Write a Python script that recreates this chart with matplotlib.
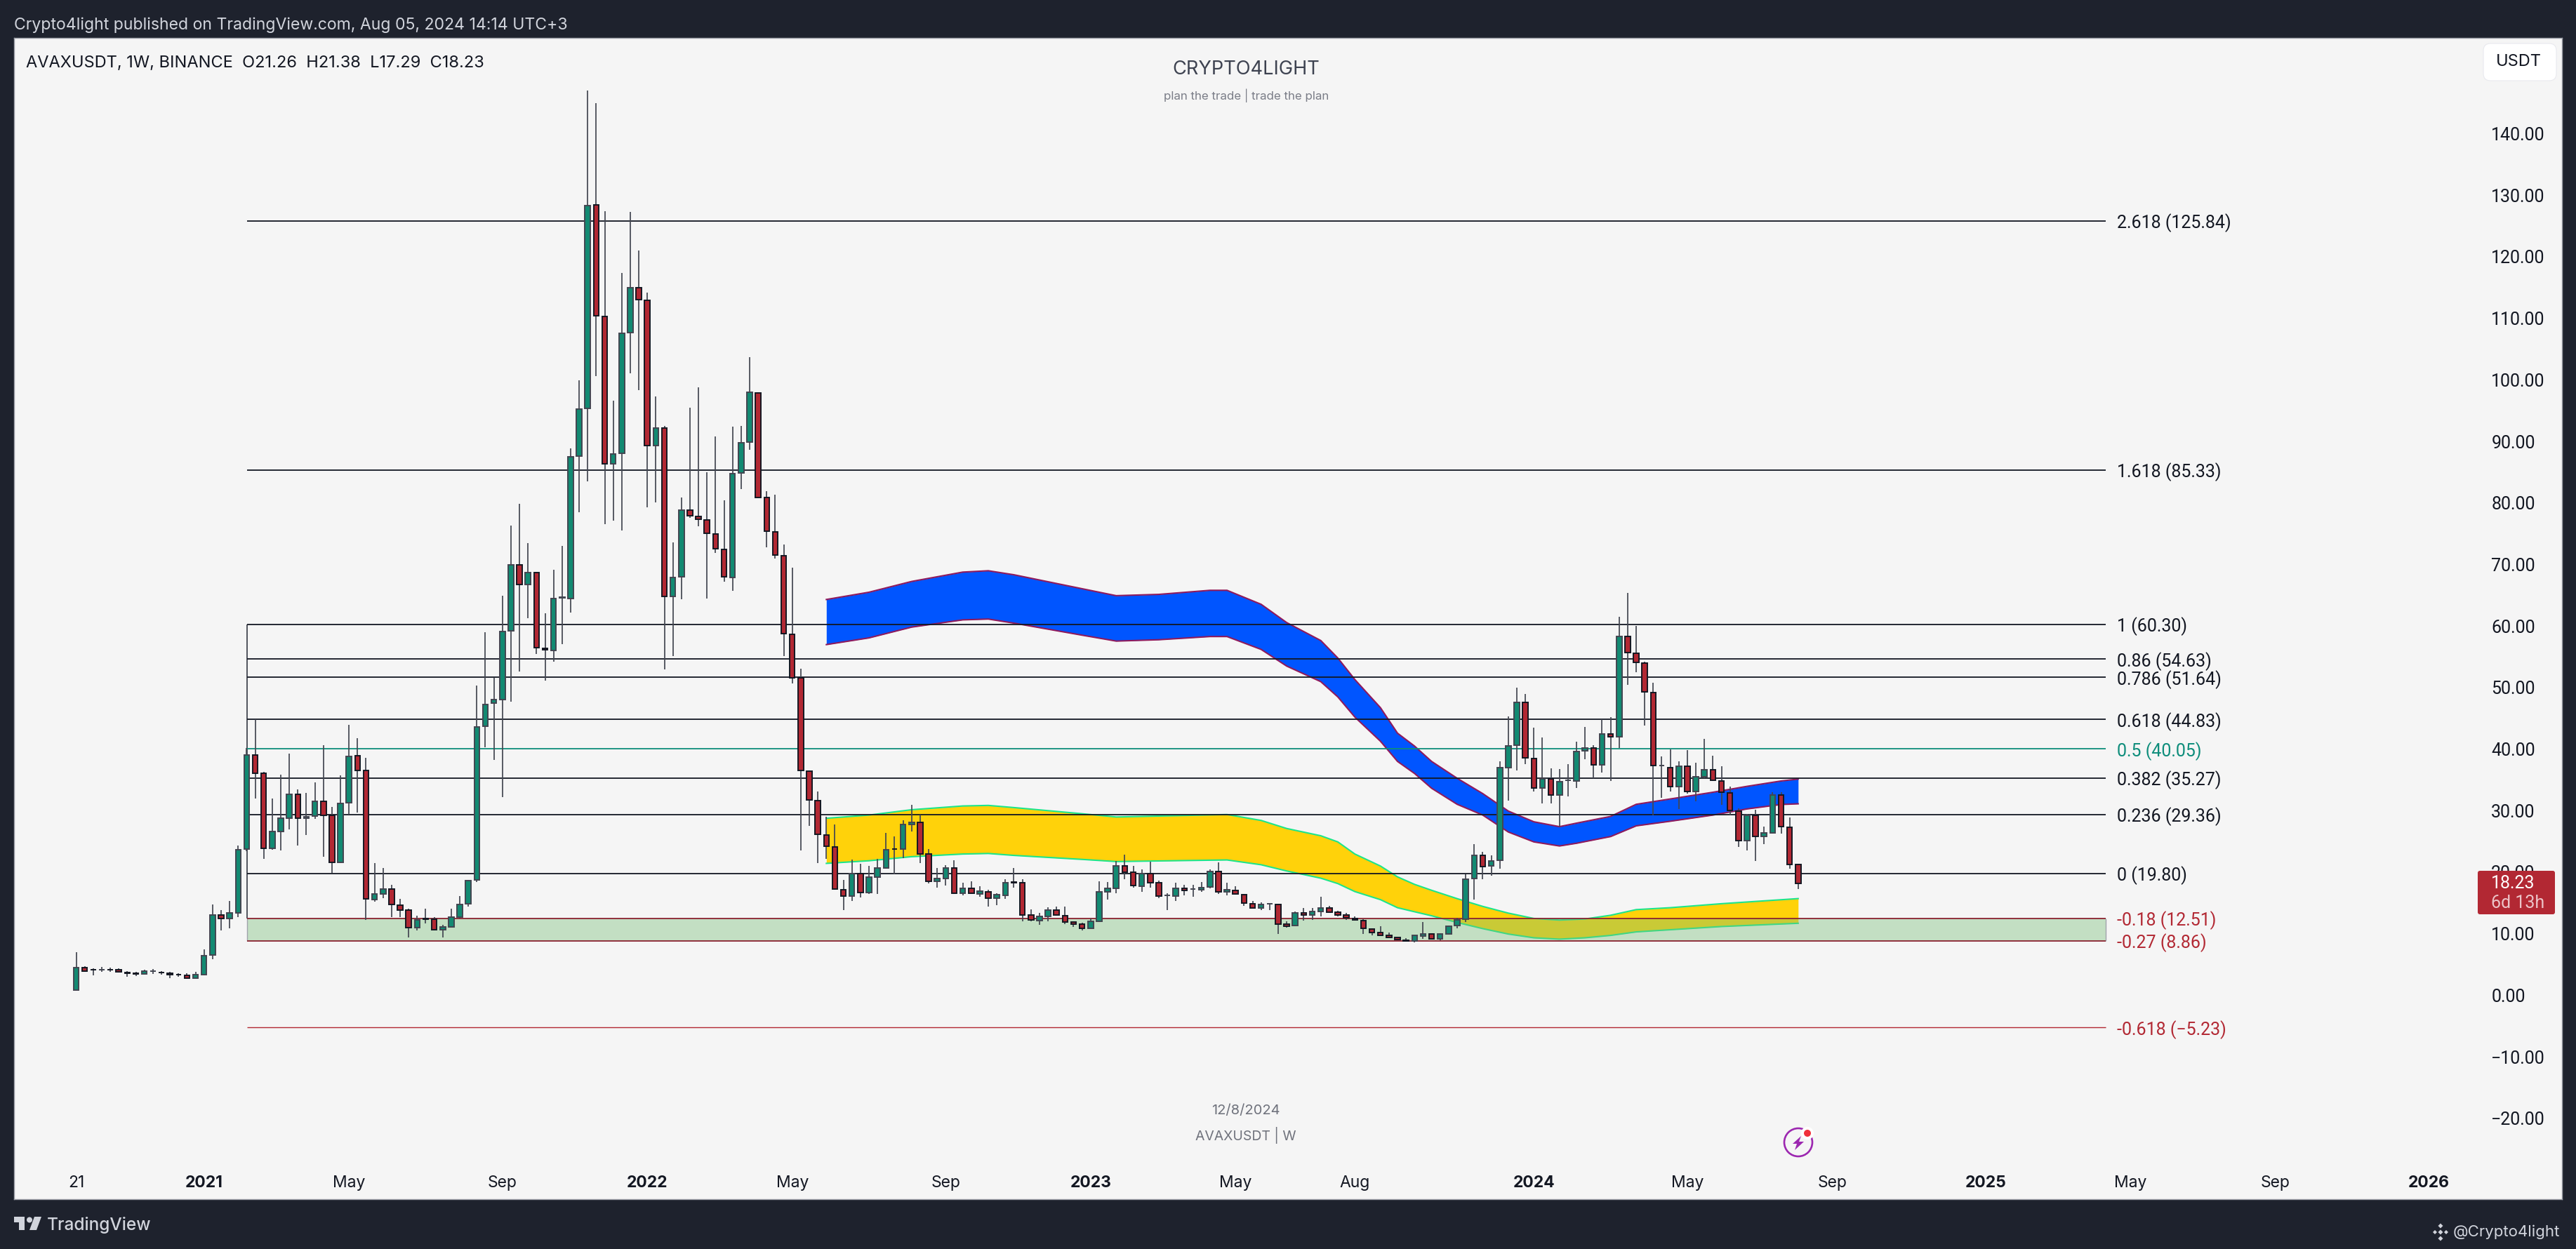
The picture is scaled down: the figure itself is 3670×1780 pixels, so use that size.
# -*- coding: utf-8 -*-
import numpy as np
import matplotlib
matplotlib.use("Agg")
import matplotlib.pyplot as plt
from matplotlib.patches import Circle, FancyBboxPatch, Polygon, Rectangle

plt.rcParams['font.family'] = ['Inter', 'DejaVu Sans']

# weekly candles (first one is the week of 21 Sep 2020)
opens = [0.85, 4.53, 4.15, 4.15, 4.2, 4.15, 3.75, 3.58, 3.49, 3.9,
         3.7, 3.6, 3.35, 3.2, 2.83, 3.35, 6.51, 13.04, 12.47, 13.41,
         23.72, 39.04, 36.1, 23.91, 26.65, 28.82, 32.61, 28.73, 29.11, 31.47,
         29.21, 21.55, 31.29, 38.95, 36.48, 15.59, 16.44, 17.29, 14.65, 13.79,
         10.96, 12.47, 12.38, 10.67, 11.15, 12.66, 14.84, 18.71, 43.67, 47.45,
         48.08, 59.20, 69.94, 66.73, 68.63, 56.4, 56.06, 64.6, 64.44, 87.61,
         95.33, 128.45, 110.32, 86.37, 88.07, 107.64, 114.97, 112.94, 89.31, 92.19,
         64.83, 67.97, 78.84, 77.86, 77.2, 74.91, 72.43, 67.91, 84.86, 89.9,
         97.88, 80.87, 75.24, 71.38, 58.68, 51.53, 36.43, 31.68, 26.09, 24.13,
         17.19, 16.1, 19.72, 16.67, 19.16, 20.64, 23.8, 23.74, 27.8, 28.15,
         22.91, 18.5, 18.94, 20.64, 16.63, 17.33, 16.45, 16.85, 15.75, 16.28,
         18.38, 18.24, 13.0, 12.18, 12.79, 13.88, 12.96, 11.87, 11.61, 10.87,
         12.04, 16.76, 17.37, 21.0, 20.03, 17.76, 19.72, 18.33, 16.2, 16.1,
         17.41, 17.25, 17.15, 17.59, 20.16, 16.76, 17.06, 16.36, 14.88, 14.23,
         14.85, 14.71, 11.52, 11.31, 13.44, 13.09, 13.57, 14.22, 13.49, 13.05,
         12.53, 12.18, 10.78, 10.17, 9.78, 9.43, 8.99, 8.86, 9.65, 10.0,
         9.12, 10.0, 11.31, 12.31, 18.94, 22.78, 21.0, 21.9, 37.04, 40.58,
         47.6, 38.44, 33.64, 35.17, 32.51, 34.9, 34.78, 39.71, 40.19, 37.44,
         42.5, 41.98, 58.34, 55.59, 54.02, 49.22, 37.3, 37.0, 33.95, 37.26,
         33.07, 35.56, 36.65, 34.87, 32.9, 29.93, 25.09, 29.28, 25.79, 26.36,
         32.55, 27.32, 21.26]
closes = [4.53, 3.87, 4.12, 4.2, 4.15, 3.77, 3.58, 3.49, 3.87, 3.96,
          3.68, 3.39, 3.30, 2.83, 3.30, 6.42, 13.04, 12.47, 13.41, 23.63,
          39.04, 36.1, 23.91, 26.65, 28.73, 32.61, 28.73, 29.02, 31.47, 29.21,
          21.55, 31.19, 38.85, 36.58, 15.68, 16.44, 17.29, 14.74, 13.89, 10.96,
          12.28, 12.38, 10.67, 11.15, 12.66, 14.74, 18.61, 43.57, 47.26, 48.02,
          59.14, 69.94, 66.73, 68.63, 56.45, 56.1, 64.5, 64.7, 87.54, 95.27,
          128.32, 110.38, 86.37, 87.98, 107.57, 114.97, 113.0, 89.31, 92.19, 64.83,
          67.91, 78.84, 77.92, 77.33, 75.04, 72.56, 67.97, 84.79, 89.77, 97.95,
          80.93, 75.44, 71.51, 58.81, 51.61, 36.52, 31.72, 26.14, 24.18, 17.24,
          16.1, 19.72, 16.67, 19.16, 20.64, 23.69, 23.78, 27.8, 28.15, 22.95,
          18.5, 18.94, 20.64, 16.63, 17.33, 16.54, 16.89, 15.75, 16.32, 18.24,
          18.33, 13.0, 12.22, 12.79, 13.88, 13.0, 11.87, 11.61, 10.87, 12.04,
          16.76, 17.33, 21.0, 20.03, 17.8, 19.72, 18.33, 16.1, 16.24, 17.41,
          17.06, 17.28, 17.54, 20.16, 16.76, 17.1, 16.45, 14.97, 14.23, 14.79,
          14.88, 11.52, 11.26, 13.44, 13.09, 13.57, 14.22, 13.53, 13.09, 12.57,
          12.22, 10.87, 10.17, 9.78, 9.43, 9.03, 8.82, 9.69, 10.0, 9.17,
          10.0, 11.26, 12.27, 18.9, 22.78, 20.95, 21.86, 37.0, 40.54, 47.6,
          38.57, 33.64, 35.17, 32.51, 34.73, 34.95, 39.62, 40.19, 37.44, 42.5,
          41.98, 58.34, 55.67, 54.1, 49.31, 37.35, 37.35, 33.95, 37.26, 33.07,
          35.52, 36.7, 34.91, 33.0, 30.02, 25.13, 29.28, 25.79, 26.36, 32.55,
          27.4, 21.21, 18.23]
highs = [6.98, 4.7, 4.34, 4.62, 4.5, 4.4, 3.87, 3.77, 4.1, 4.25,
         3.9, 3.77, 3.58, 3.58, 3.77, 7.46, 14.74, 13.89, 15.31, 24.38,
         40.17, 44.9, 36.29, 31.95, 35.82, 39.23, 33.46, 32.89, 34.59, 40.64,
         30.62, 35.73, 43.95, 41.78, 38.56, 21.45, 20.7, 17.95, 15.68, 14.08,
         12.94, 14.08, 12.66, 11.43, 14.08, 16.07, 18.8, 50.29, 58.98, 51.61,
         64.9, 76.29, 79.82, 73.47, 68.76, 62.08, 69.15, 73.01, 88.85, 99.91,
         146.97, 144.94, 127.4, 96.58, 117.32, 127.27, 120.99, 114.18, 97.3, 92.52,
         73.54, 80.87, 95.46, 98.8, 84.99, 90.8, 80.41, 92.39, 92.52, 103.64,
         98.01, 81.92, 81.33, 73.21, 69.48, 53.06, 36.5, 33.12, 29.06, 27.75,
         18.72, 22.0, 21.38, 21.08, 22.17, 26.36, 25.79, 28.49, 30.89, 29.37,
         23.74, 20.68, 21.12, 21.95, 18.28, 18.5, 17.72, 17.19, 16.63, 18.81,
         20.68, 18.81, 14.01, 13.35, 14.31, 14.36, 14.36, 12.04, 11.83, 12.48,
         18.5, 18.37, 21.77, 22.87, 21.0, 20.42, 21.73, 18.59, 16.58, 18.24,
         17.94, 17.94, 18.37, 20.51, 21.56, 18.28, 17.67, 16.5, 15.27, 15.14,
         14.97, 14.88, 12.04, 13.66, 14.14, 14.14, 15.97, 14.58, 13.71, 13.35,
         12.83, 12.4, 10.9, 11.22, 10.17, 9.56, 9.25, 9.78, 11.87, 10.1,
         10.1, 11.39, 12.61, 19.68, 24.61, 23.3, 22.73, 38.0, 45.29, 50.0,
         48.96, 43.5, 41.89, 36.87, 36.74, 37.57, 41.19, 43.59, 40.58, 44.9,
         45.2, 61.52, 65.36, 60.04, 54.15, 50.79, 38.79, 39.97, 38.0, 39.84,
         37.79, 41.71, 38.88, 37.18, 33.95, 30.37, 29.5, 30.15, 27.4, 32.99,
         32.99, 28.84, 21.38]
lows = [0.8, 3.8, 3.21, 3.77, 3.77, 3.7, 3.02, 3.11, 3.4, 3.49,
        3.4, 2.83, 3.02, 2.83, 2.73, 3.2, 5.85, 10.58, 10.87, 12.66,
        23.44, 31.95, 22.21, 23.63, 23.53, 26.93, 24.38, 25.99, 28.64, 22.49,
        19.84, 21.45, 29.3, 29.68, 12.19, 15.21, 15.78, 12.66, 12.75, 9.35,
        10.58, 11.62, 10.58, 9.35, 11.05, 12.47, 14.36, 18.43, 40.27, 38.19,
        32.23, 47.74, 52.66, 61.23, 55.41, 51.09, 54.16, 57.11, 62.2, 78.45,
        83.55, 100.63, 76.6, 77.07, 75.57, 101.03, 98.28, 79.23, 80.08, 53.0,
        55.15, 64.31, 77.53, 76.16, 64.5, 71.84, 67.19, 65.68, 82.24, 88.66,
        80.74, 72.82, 70.98, 55.15, 50.69, 23.52, 27.53, 21.43, 22.21, 17.2,
        13.79, 15.32, 15.84, 16.41, 16.41, 20.55, 19.64, 22.3, 26.66, 21.43,
        18.15, 17.5, 17.85, 16.41, 16.28, 16.41, 15.97, 14.44, 14.66, 15.62,
        17.54, 12.04, 12.04, 11.43, 12.04, 12.92, 11.52, 11.09, 10.52, 10.83,
        11.96, 15.54, 16.58, 18.81, 17.54, 16.85, 17.54, 15.8, 13.88, 15.27,
        16.28, 16.06, 16.76, 17.41, 16.5, 16.28, 16.36, 14.58, 14.18, 13.79,
        13.88, 10.0, 11.04, 11.26, 12.18, 12.27, 12.83, 13.35, 12.83, 12.27,
        12.13, 9.95, 9.78, 9.73, 9.34, 8.95, 8.77, 8.64, 9.21, 9.08,
        8.9, 9.86, 10.91, 11.96, 15.54, 18.85, 19.46, 20.55, 31.68, 36.57,
        37.57, 33.12, 31.16, 31.16, 27.4, 32.33, 33.64, 38.35, 35.26, 36.22,
        34.82, 40.14, 50.44, 52.53, 43.81, 29.28, 32.03, 33.16, 30.28, 32.81,
        31.46, 35.26, 34.82, 31.0, 29.28, 24.13, 23.56, 21.86, 24.61, 26.27,
        26.31, 20.55, 17.29]

# the two moving average ribbons
blue_idx = [88, 93, 98, 104, 107, 110, 118, 122, 127, 133, 135, 139, 142, 146, 148, 150, 153,
            155, 157, 159, 162, 165, 168, 171, 174, 176, 180, 183, 187, 192, 196, 200, 202]
blue_top = [64.31, 65.49, 67.24, 68.76, 68.98, 68.33, 66.06, 64.93, 65.14, 65.8, 65.8, 63.53, 60.56,
            57.64, 54.8, 51.3, 46.73, 42.59, 40.49, 38.0, 35.26, 32.77, 29.93, 28.19, 27.4, 27.97,
            29.06, 31.03, 31.9, 32.99, 33.95, 34.82, 35.13]
blue_low = [56.98, 58.07, 59.82, 61.0, 61.13, 60.47, 58.51, 57.55, 57.77, 58.29, 58.29, 56.2, 53.49,
            50.96, 48.48, 45.2, 41.28, 38.0, 36.04, 33.64, 31.03, 29.28, 26.53, 24.92, 24.26, 24.7,
            25.79, 27.53, 28.28, 29.28, 30.28, 31.0, 31.11]
yellow_idx = [88, 93, 98, 104, 107, 110, 118, 122, 135, 139, 142, 146, 148, 150, 153, 155, 157,
              159, 162, 165, 168, 171, 174, 177, 180, 183, 187, 193, 202]
yellow_top = [28.76, 29.28, 30.15, 30.76, 30.85, 30.5, 29.5, 28.97, 29.37, 28.41, 27.1, 25.92, 24.92,
              22.95, 21.0, 19.24, 18.02, 17.06, 15.7, 14.44, 13.35, 12.48, 12.22, 12.4, 13.0, 13.92,
              14.23, 14.88, 15.71]
yellow_low = [21.43, 21.86, 22.52, 22.95, 23.04, 22.73, 22.08, 21.73, 21.99, 21.21, 20.2, 19.03, 18.15,
              16.85, 15.54, 14.23, 13.57, 12.92, 11.83, 10.83, 9.95, 9.34, 9.12, 9.34, 9.73, 10.3,
              10.65, 11.17, 11.7]

fib_ratios = ['2.618', '1.618', '1', '0.86', '0.786', '0.618', '0.5', '0.382', '0.236', '0',
              '-0.18', '-0.27', '-0.618']
fib_prices = [125.84, 85.33, 60.30, 54.63, 51.64, 44.83, 40.05, 35.27, 29.36, 19.80, 12.51, 8.86, -5.23]

y_ticks = [140, 130, 120, 110, 100, 90, 80, 70, 60, 50, 40, 30, 20, 10, 0, -10, -20]
x_tick_pos = [0, 15, 32, 50, 67, 84, 102, 119, 136, 150, 171, 189, 206, 224, 241, 258, 276]
x_tick_labels = ['21', '2021', 'May', 'Sep', '2022', 'May', 'Sep', '2023', 'May', 'Aug', '2024',
                 'May', 'Sep', '2025', 'May', 'Sep', '2026']

DARK = '#1e222d'
PANEL = '#f5f5f5'
INK = '#131722'
WICK = '#434651'
GREEN = '#128a72'
RED = '#b22833'
TEAL = '#0e8d7b'
NUM_FONT = ['Roboto', 'DejaVu Sans']  # even digit widths, the Inter 1 comes out too narrow here

W, H = 3670, 1780
fig = plt.figure(figsize=(W / 100, H / 100), dpi=100, facecolor=DARK)
ax = fig.add_axes([20 / W, 1 - 1709 / H, 3630 / W, 1655 / H], facecolor=PANEL)
ax.set_xlim(-7.29, 291.6)
ax.set_ylim(-33.13, 155.56)

x = np.arange(len(opens))
o = np.array(opens)
c = np.array(closes)
up = c >= o

# ribbons go under everything else
ax.fill_between(blue_idx, blue_low, blue_top, color='#0055ff', lw=0, zorder=2)
ax.plot(blue_idx, blue_top, color='#8f1a5c', lw=1.5, zorder=2.1)
ax.plot(blue_idx, blue_low, color='#8f1a5c', lw=1.5, zorder=2.1)
ax.fill_between(yellow_idx, yellow_low, yellow_top, color='#ffd20a', lw=0, zorder=2)
ax.plot(yellow_idx, yellow_top, color='#1de58a', lw=1.5, zorder=2.1)
ax.plot(yellow_idx, yellow_low, color='#1de58a', lw=1.5, zorder=2.1)

# fib levels
fib_l, fib_r = 20.05, 238.1
ax.add_patch(Rectangle((fib_l, fib_prices[11]), fib_r - fib_l, fib_prices[10] - fib_prices[11],
                       facecolor='#78c07a', alpha=0.4, lw=0, zorder=2.5))
ax.vlines(fib_l, fib_prices[10], fib_prices[2], color=WICK, lw=1.3, zorder=3)
ax.vlines([fib_l, fib_r], fib_prices[11], fib_prices[10], color='#a0a3ab', lw=1.0, zorder=3)
for ratio, price in zip(fib_ratios, fib_prices):
    line_col, txt_col, lw = INK, INK, 1.3
    if ratio == '0.5':
        line_col, txt_col = TEAL, TEAL
    if ratio in ('-0.18', '-0.27'):
        line_col, txt_col = '#8a2230', RED
    if ratio == '-0.618':
        line_col, txt_col, lw = RED, RED, 1.0
    ax.hlines(price, fib_l, fib_r, color=line_col, lw=lw, zorder=3)
    label = '%s (%.2f)' % (ratio, price)
    label = label.replace('(-', '(\u2212')
    ax.text(239.4, price, label, color=txt_col, fontsize=18, family=NUM_FONT,
            va='center_baseline', ha='left', zorder=6)

# candles
ax.vlines(x, lows, highs, color=WICK, lw=1.25, zorder=4)
ax.bar(x[up], (c - o)[up], bottom=o[up], width=0.62, color=GREEN, edgecolor=WICK, linewidth=1.4, zorder=5)
ax.bar(x[~up], (o - c)[~up], bottom=c[~up], width=0.62, color=RED, edgecolor=INK, linewidth=1.4, zorder=5)

# axis labels sit inside the panel like on the original
ax.yaxis.tick_right()
ax.set_yticks(y_ticks)
ax.set_yticklabels([('%.2f' % v).replace('-', '\u2212') for v in y_ticks], color=INK, fontsize=18,
                   family=NUM_FONT, va='center_baseline')
ax.tick_params(axis='y', length=0, pad=-72.5)
ax.set_xticks(x_tick_pos)
ax.set_xticklabels(x_tick_labels, color=INK, fontsize=16.5)
ax.tick_params(axis='x', length=0, pad=-24.5)
for lab in ax.get_xticklabels():
    if len(lab.get_text()) == 4:
        lab.set_fontweight('bold')
for sp in ax.spines.values():
    sp.set_color('#9a9da6')
    sp.set_linewidth(1.0)

# everything else is placed in picture pixels
ov = fig.add_axes([0, 0, 1, 1], facecolor='none')
ov.set_xlim(0, W)
ov.set_ylim(H, 0)
ov.axis('off')

ov.text(20, 36, 'Crypto4light published on TradingView.com, Aug 05, 2024 14:14 UTC+3',
        color='#d1d4dc', fontsize=16.6, va='center')
ov.text(37, 90, 'AVAXUSDT, 1W, BINANCE  O21.26  H21.38  L17.29  C18.23', color=INK, fontsize=17, va='center')
ov.text(1775.5, 99, 'CRYPTO4LIGHT', color='#3d4250', fontsize=19.6, ha='center', va='center')
ov.text(1775.5, 136, 'plan the trade | trade the plan', color='#7a7d87', fontsize=12.2, ha='center', va='center')
ov.text(1775, 1583, '12/8/2024', color='#6f727c', fontsize=14.5, ha='center', va='center')
ov.text(1775, 1618, 'AVAXUSDT | W', color='#6f727c', fontsize=14, ha='center', va='center')

ov.add_patch(FancyBboxPatch((3546, 70), 88, 37, boxstyle='round,pad=8,rounding_size=10',
                            facecolor='white', edgecolor='#e8e9ee', lw=0.8))
ov.text(3588, 88, 'USDT', color=INK, fontsize=17, ha='center', va='center')

# last price tag
ov.add_patch(FancyBboxPatch((3533, 1244), 104, 56, boxstyle='round,pad=3,rounding_size=3',
                            facecolor=RED, edgecolor='none'))
ov.text(3549, 1259, '18.23', color='white', fontsize=18, family=NUM_FONT, va='center')
ov.text(3549, 1287, '6d 13h', color='#ecc4c8', fontsize=18, family=NUM_FONT, va='center')

# bolt icon
ov.add_patch(Circle((2562, 1628), 20, facecolor='none', edgecolor='#9c27b0', lw=1.9))
ov.add_patch(Circle((2575, 1615), 9, facecolor='white', edgecolor='none'))
ov.add_patch(Circle((2575, 1615), 5, facecolor='#f0303a', edgecolor='none'))
ov.add_patch(Polygon([(2566, 1619), (2554, 1630), (2560, 1630), (2557, 1639), (2570, 1627),
                      (2563, 1627)], closed=True, facecolor='#9c27b0', edgecolor='none'))

# TradingView logo and footer
FOOT = '#d1d4dc'
ov.add_patch(Polygon([(20, 1734), (35, 1734), (35, 1753), (27, 1753), (27, 1742), (20, 1742)],
                     closed=True, facecolor=FOOT, edgecolor='none'))
ov.add_patch(Circle((42, 1738.5), 4, facecolor=FOOT, edgecolor='none'))
ov.add_patch(Polygon([(49, 1734), (59, 1734), (52, 1753), (42, 1753)], closed=True,
                     facecolor=FOOT, edgecolor='none'))
ov.text(67, 1746, 'TradingView', color=FOOT, fontsize=17.6, va='center', fontweight='medium')

for dx, dy, r in [(0, -9, 3.5), (0, 9, 3.5), (-8, 0, 3), (8, 0, 3), (0, 0, 3.5)]:
    ov.add_patch(Polygon([(3477 + dx, 1756 + dy - r), (3477 + dx + r, 1756 + dy), (3477 + dx, 1756 + dy + r),
                          (3477 + dx - r, 1756 + dy)], closed=True, facecolor=FOOT, edgecolor='none'))
ov.text(3495, 1756, '@Crypto4light', color=FOOT, fontsize=16, va='center')

fig.savefig('out.png', dpi=100, facecolor=fig.get_facecolor())
